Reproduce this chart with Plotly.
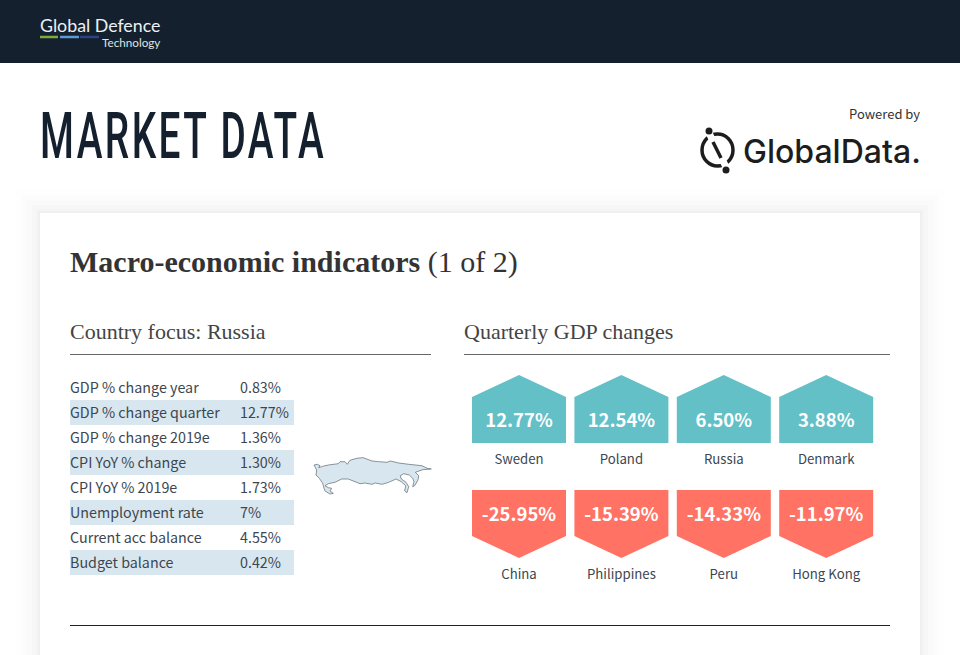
import plotly.graph_objects as go

# table on the left
indicators = ["GDP % change year", "GDP % change quarter", "GDP % change 2019e", "CPI YoY % change",
              "CPI YoY % 2019e", "Unemployment rate", "Current acc balance", "Budget balance"]
indicator_values = ["0.83%", "12.77%", "1.36%", "1.30%", "1.73%", "7%", "4.55%", "0.42%"]

# quarterly gdp tiles
top_countries = ["Sweden", "Poland", "Russia", "Denmark"]
top_changes = [12.77, 12.54, 6.50, 3.88]
bottom_countries = ["China", "Philippines", "Peru", "Hong Kong"]
bottom_changes = [-25.95, -15.39, -14.33, -11.97]

# rough outline of Russia
russia_x = [314, 317.3, 320, 318.7, 322.7, 328.3, 338.3, 340, 345, 347.3, 350, 356.7, 363.3, 368.3, 372,
            378.7, 387, 390.3, 398.7, 408.7, 417, 422, 427, 431.3, 422.7, 418.7, 415.3, 418.7, 418, 414.7, 412.7, 414,
            412.7, 409.3, 403.7, 400.3, 401.3, 406, 408.7, 407, 404.7, 405.7, 401.3, 396, 388.7, 382, 375.3, 372,
            365, 360, 353.3, 348.3, 341.7, 335, 328.3, 325, 328.3, 331.7, 330, 333.3, 330, 325, 324, 322.7, 319.3, 316,
            316.7, 314]
russia_y = [465, 464.3, 465.7, 467.7, 466.3, 465, 463.7, 461.7, 461.7, 464.3, 460.3, 458.3, 457.7, 459.7, 461,
            461.7, 462.3, 461, 463, 464.3, 465, 465.7, 468.3, 469, 469.7, 471, 472.3, 475.7, 480, 485.7, 486.7, 481.7,
            478.3, 475, 473.7, 475.7, 479, 482.3, 486.7, 492.7, 491, 485.7, 481.7, 479, 482.3, 484.3, 483, 484.3,
            483, 483.7, 481, 479, 479, 482.3, 483.7, 485.7, 487.7, 488.3, 491, 493.3, 494, 491, 488.3, 483.3, 478.3, 475,
            470, 465]

INK = "#3c4650"
SANS = "Noto Sans CJK SC"
SERIF = "Liberation Serif"

ROW_TOP = 375
ROW_H = 25
TILE_LEFT = 472
TILE_W = 94
TILE_STEP = 102.4

fig = go.Figure()


def tile_xy(col, top_row):
    x0 = TILE_LEFT + col * TILE_STEP
    mid, x1 = x0 + TILE_W / 2, x0 + TILE_W
    if top_row:
        return [x0, mid, x1, x1, x0, x0], [397, 375, 397, 443, 443, 397]
    return [x0, x1, x1, mid, x0, x0], [490, 490, 536, 558, 536, 490]


# map
fig.add_trace(go.Scatter(x=russia_x, y=russia_y, mode="lines", fill="toself", fillcolor="#d8e7ef",
                         line=dict(color="#6f7a80", width=0.8), hoverinfo="skip"))

# tiles
for i in range(4):
    for top_row, changes, colour in ((True, top_changes, "#63c0c7"), (False, bottom_changes, "#ff7264")):
        xs, ys = tile_xy(i, top_row)
        fig.add_trace(go.Scatter(x=xs, y=ys, mode="lines", fill="toself", fillcolor=colour,
                                 line=dict(width=0), hoverinfo="skip"))

tile_cx = [TILE_LEFT + i * TILE_STEP + TILE_W / 2 for i in range(4)]
fig.add_trace(go.Scatter(x=tile_cx * 2, y=[422] * 4 + [516] * 4, mode="text",
                         text=["%.2f%%" % v for v in top_changes + bottom_changes], textposition="middle center",
                         textfont=dict(family=SANS, size=18.5, color="white", weight="bold")))
fig.add_trace(go.Scatter(x=tile_cx * 2, y=[461] * 4 + [576] * 4, mode="text",
                         text=top_countries + bottom_countries, textposition="middle center",
                         textfont=dict(family=SANS, size=13.2, color=INK)))

# header and card
shapes = [dict(type="rect", x0=0, x1=960, y0=0, y1=63, fillcolor="#15202e", line_width=0, layer="below")]
for grow, alpha in ((24, 0.004), (18, 0.006), (13, 0.008), (8, 0.01), (4, 0.012), (2, 0.014)):
    shapes.append(dict(type="rect", x0=40 - grow, x1=920 + grow, y0=213 - grow, y1=700,
                       fillcolor="rgba(0,0,0,%s)" % alpha, line_width=0, layer="below"))
shapes.append(dict(type="rect", x0=40, x1=920, y0=213, y1=700, fillcolor="white", line_width=0, layer="below"))

# table bands
for i in range(len(indicators)):
    if i % 2 == 1:
        shapes.append(dict(type="rect", x0=70, x1=294, y0=ROW_TOP + i * ROW_H, y1=ROW_TOP + (i + 1) * ROW_H,
                           fillcolor="#d8e7ef", line_width=0, layer="below"))

# dividers
for x0, x1, y, c in ((70, 431, 354.5, "#666666"), (464, 890, 354.5, "#666666"), (70, 890, 625.5, "#222222")):
    shapes.append(dict(type="line", x0=x0, x1=x1, y0=y, y1=y, line=dict(color=c, width=1)))

# logo pieces
for x0, x1, c in ((40, 58, "#7aab3c"), (60, 79, "#5b9bd5"), (80, 99, "#2b4380")):
    shapes.append(dict(type="line", x0=x0, x1=x1, y0=37, y1=37, line=dict(color=c, width=2.5)))
shapes.append(dict(type="circle", x0=702, x1=733, y0=134, y1=166, line=dict(color="#1d1d1d", width=3.5)))
shapes.append(dict(type="line", x0=708, x1=727, y0=131, y1=169, line=dict(color="white", width=7)))
shapes.append(dict(type="line", x0=713, x1=721, y0=142, y1=158, line=dict(color="#1d1d1d", width=3.5)))
shapes.append(dict(type="circle", x0=705.5, x1=712.5, y0=127.5, y1=134.5, fillcolor="#1d1d1d", line_width=0))
shapes.append(dict(type="circle", x0=722.5, x1=729.5, y0=166.5, y1=173.5, fillcolor="#1d1d1d", line_width=0))

row_y = [ROW_TOP + i * ROW_H + 14 for i in range(len(indicators))]
fig.add_trace(go.Scatter(x=[70] * len(indicators), y=row_y, mode="text", text=indicators,
                         textposition="middle right", textfont=dict(family=SANS, size=14.3, color=INK)))
fig.add_trace(go.Scatter(x=[240] * len(indicators), y=row_y, mode="text", text=indicator_values,
                         textposition="middle right", textfont=dict(family=SANS, size=14.3, color=INK)))


def label(text, x, y, size, family, color, anchor="left", weight=None):
    fig.add_annotation(x=x, y=y, text=text, showarrow=False, xanchor=anchor, yanchor="middle", borderpad=0,
                       font=dict(size=size, family=family, color=color, weight=weight))


label("Global Defence", 39, 24.5, 17.8, "Lato", "#eef1f3")
label("Technology", 161, 41.5, 11.7, "Lato", "#dfe3e6", "right")
label("MARKET DATA", 182.5, 136, 64, "Roboto", "#15202e", "center", weight=500)
label("Powered by", 921, 113, 13, SANS, "#333333", "right")
label("GlobalData.", 922, 151, 32, "Inter", "#1d1d1d", "right", weight=500)
label("<b>Macro-economic indicators</b> (1 of 2)", 69, 262, 30, SERIF, "#333333")
label("Country focus: Russia", 69, 331, 22, SERIF, "#444444")
label("Quarterly GDP changes", 463, 331, 22, SERIF, "#444444")

fig.update_layout(width=960, height=655, margin=dict(l=0, r=0, t=0, b=0), showlegend=False,
                  paper_bgcolor="white", plot_bgcolor="rgba(0,0,0,0)", shapes=shapes)
fig.update_xaxes(range=[0, 960], visible=False, fixedrange=True)
fig.update_yaxes(range=[655, 0], visible=False, fixedrange=True)

# no body margin; the headline font is condensed and nothing installed is, so squeeze it
post = """
document.body.style.margin = '0';
document.querySelectorAll('.annotation-text').forEach(function (t) {
  if (t.textContent === 'MARKET DATA') {
    t.style.letterSpacing = '4px';
    t.setAttribute('textLength', '286');
    t.setAttribute('lengthAdjust', 'spacingAndGlyphs');
  }
});
"""
fig.write_html("out.html", config=dict(displayModeBar=False), post_script=post)
